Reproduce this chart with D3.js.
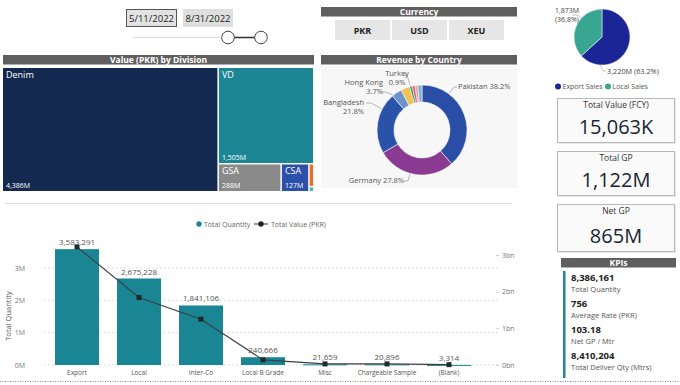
<!DOCTYPE html>
<html>
<head>
<meta charset="utf-8">
<script src="https://cdn.jsdelivr.net/npm/d3@7"></script>
<style>
  body { margin: 0; background: #fff; }
  svg text { font-family: "Open Sans", "Noto Sans", sans-serif; }
</style>
</head>
<body>
<div id="dash"></div>
<script>
// ---- data ----
var divisions = ["Denim", "VD", "GSA", "CSA", "Other", "Misc"];
var divisionValues = [4386, 1505, 288, 127, 18, 4];
var divisionColors = ["#13294f", "#1c8694", "#8a8a8a", "#2c50aa", "#f06b1e", "#46b7ad"];

var countries = ["Pakistan", "Germany", "Bangladesh", "Hong Kong", "USA", "Turkey", "Spain", "Italy", "UK"];
var countryShares = [38.2, 27.8, 21.8, 3.7, 3.2, 0.9, 1.0, 1.0, 1.5];
var countryColors = ["#2a4ea6", "#8b3a92", "#2a52a8", "#6b93cc", "#f2c24f", "#2e9a6f", "#e8566b", "#f29ab0", "#7fb6c9"];

var salesTypes = ["Export Sales", "Local Sales"];
var salesValues = [3220, 1873];
var salesColors = ["#1b2596", "#38a690"];

var categories = ["Export", "Local", "Inter-Co", "Local B Grade", "Misc", "Chargeable Sample", "(Blank)"];
var quantities = [3583291, 2675228, 1841106, 240666, 21659, 20896, 3314];
var valuesPKR = [3.22e9, 1.84e9, 1.25e9, 0.14e9, 0.03e9, 0.03e9, 0.01e9];

var cards = ["Total Value (FCY)", "Total GP", "Net GP"];
var cardValues = ["15,063K", "1,122M", "865M"];

var kpiValues = ["8,386,161", "756", "103.18", "8,410,204"];
var kpiNames = ["Total Quantity", "Average Rate (PKR)", "Net GP / Mtr", "Total Deliver Qty (Mtrs)"];

var currencies = ["PKR", "USD", "XEU"];

// ---- svg ----
var svg = d3.select("#dash").append("svg").attr("width", 680).attr("height", 385);

function titleBar(x, y, w, label) {
  svg.append("rect").attr("x", x).attr("y", y).attr("width", w).attr("height", 9.5).attr("fill", "#5f5f5f");
  svg.append("text").attr("x", x + w / 2).attr("y", y + 8).attr("text-anchor", "middle")
    .attr("font-size", "8.5px").attr("font-weight", "bold").attr("fill", "#fff").text(label);
}

// date slicer
svg.append("rect").attr("x", 126.5).attr("y", 9.5).attr("width", 50).attr("height", 17).attr("fill", "#e2e2e2").attr("stroke", "#555");
svg.append("text").attr("x", 151.5).attr("y", 22).attr("text-anchor", "middle").attr("font-size", "9.5px").attr("fill", "#222").text("5/11/2022");
svg.append("rect").attr("x", 183).attr("y", 9).attr("width", 50).attr("height", 18).attr("fill", "#dedede");
svg.append("text").attr("x", 208).attr("y", 22).attr("text-anchor", "middle").attr("font-size", "9.5px").attr("fill", "#222").text("8/31/2022");
svg.append("line").attr("x1", 133).attr("x2", 261).attr("y1", 37.5).attr("y2", 37.5).attr("stroke", "#ddd");
svg.append("line").attr("x1", 228).attr("x2", 261).attr("y1", 37.5).attr("y2", 37.5).attr("stroke", "#333").attr("stroke-width", 1.5);
[228, 261].forEach(function (cx) {
  svg.append("circle").attr("cx", cx).attr("cy", 37.5).attr("r", 6.3).attr("fill", "#fff").attr("stroke", "#444");
});

// currency slicer
titleBar(321, 7, 196, "Currency");
currencies.forEach(function (c, i) {
  var bx = 335 + i * 57;
  svg.append("rect").attr("x", bx).attr("y", 20).attr("width", 55).attr("height", 20).attr("fill", "#e6e6e6");
  svg.append("text").attr("x", bx + 27.5).attr("y", 33.5).attr("text-anchor", "middle")
    .attr("font-size", "9px").attr("font-weight", "bold").attr("fill", "#222").text(c);
});

// ---- treemap ----
titleBar(3, 55, 311, "Value (PKR) by Division");
var root = d3.hierarchy({ children: divisions.map(function (d, i) { return { name: d, value: divisionValues[i], color: divisionColors[i] }; }) })
  .sum(function (d) { return d.value || 0; });
d3.treemap().size([310, 123]).paddingInner(1.5).tile(d3.treemapSquarify)(root);
var tm = svg.append("g").attr("transform", "translate(3,68)");
var leaf = tm.selectAll("g").data(root.leaves()).enter().append("g");
leaf.append("rect")
  .attr("x", function (d) { return d.x0; }).attr("y", function (d) { return d.y0; })
  .attr("width", function (d) { return d.x1 - d.x0; }).attr("height", function (d) { return d.y1 - d.y0; })
  .attr("fill", function (d) { return d.data.color; });
leaf.filter(function (d) { return d.x1 - d.x0 > 20; }).append("text")
  .attr("x", function (d) { return d.x0 + 3; }).attr("y", function (d) { return d.y0 + 10; })
  .attr("font-size", "9px").attr("fill", "#fff").text(function (d) { return d.data.name; });
leaf.filter(function (d) { return d.x1 - d.x0 > 20; }).append("text")
  .attr("x", function (d) { return d.x0 + 3; }).attr("y", function (d) { return d.y1 - 3; })
  .attr("font-size", "7px").attr("fill", "#fff")
  .text(function (d) { return d3.format(",")(d.data.value) + "M"; });

// ---- donut ----
titleBar(321, 55, 196, "Revenue by Country");
svg.append("rect").attr("x", 321).attr("y", 66).attr("width", 196).attr("height", 122).attr("fill", "#f7f7f7");
var dcx = 422, dcy = 130, rOut = 45;
var donut = svg.append("g").attr("transform", "translate(" + dcx + "," + dcy + ")");
var pie = d3.pie().sort(null).value(function (d) { return d; });
var arc = d3.arc().innerRadius(28).outerRadius(rOut);
var arcs = pie(countryShares);
donut.selectAll("path").data(arcs).enter().append("path")
  .attr("d", arc).attr("fill", function (d, i) { return countryColors[i]; })
  .attr("stroke", "#f7f7f7").attr("stroke-width", 0.6);

var labelSpots = [
  { i: 0, lines: ["Pakistan 38.2%"], tx: 458, ty: 89, anchor: "start", bend: [454, 87] },
  { i: 1, lines: ["Germany 27.8%"], tx: 404, ty: 183, anchor: "end", bend: [408, 181] },
  { i: 2, lines: ["Bangladesh", "21.8%"], tx: 364, ty: 105, anchor: "end", bend: [371, 103] },
  { i: 3, lines: ["Hong Kong", "3.7%"], tx: 383, ty: 85, anchor: "end", bend: [386, 92] },
  { i: 5, lines: ["Turkey", "0.9%"], tx: 397, ty: 76, anchor: "middle", bend: [407, 75] }
];
labelSpots.forEach(function (s) {
  // attach leader to the slice edge at the angle closest to the label
  var a = arcs[s.i];
  var ang = Math.atan2(s.bend[0] - dcx, -(s.bend[1] - dcy));
  if (ang < 0) ang += 2 * Math.PI;
  ang = Math.max(a.startAngle + 0.02, Math.min(a.endAngle - 0.02, ang));
  var px = dcx + (rOut + 1) * Math.sin(ang), py = dcy - (rOut + 1) * Math.cos(ang);
  var endX = s.anchor === "end" ? s.bend[0] - 5 : s.bend[0] + 3;
  if (s.anchor === "middle") endX = s.bend[0] - 4;
  svg.append("polyline")
    .attr("points", [[px, py], s.bend, [endX, s.bend[1]]].join(" "))
    .attr("fill", "none").attr("stroke", "#999").attr("stroke-width", 0.7);
  s.lines.forEach(function (l, k) {
    svg.append("text").attr("x", s.tx).attr("y", s.ty + k * 9).attr("text-anchor", s.anchor)
      .attr("font-size", "7.5px").attr("fill", "#555").text(l);
  });
});

// ---- export/local pie ----
var pcx = 602, pcy = 37;
var pie2 = svg.append("g").attr("transform", "translate(" + pcx + "," + pcy + ")");
var arcs2 = pie(salesValues);
pie2.selectAll("path").data(arcs2).enter().append("path")
  .attr("d", d3.arc().innerRadius(0).outerRadius(28))
  .attr("fill", function (d, i) { return salesColors[i]; }).attr("stroke", "#fff").attr("stroke-width", 0.5);
var fmtM = d3.format(",");
var tot = d3.sum(salesValues);
svg.append("polyline").attr("points", "582,18 578,15 572,15").attr("fill", "none").attr("stroke", "#aaa").attr("stroke-width", 0.7);
svg.append("text").attr("x", 555).attr("y", 13).attr("font-size", "7px").attr("fill", "#444").text(fmtM(salesValues[1]) + "M");
svg.append("text").attr("x", 555).attr("y", 22).attr("font-size", "7px").attr("fill", "#444").text("(" + (salesValues[1] / tot * 100).toFixed(1) + "%)");
svg.append("polyline").attr("points", "600,65 603,71 606,71").attr("fill", "none").attr("stroke", "#aaa").attr("stroke-width", 0.7);
svg.append("text").attr("x", 607).attr("y", 74).attr("font-size", "7.3px").attr("fill", "#444")
  .text(fmtM(salesValues[0]) + "M (" + (salesValues[0] / tot * 100).toFixed(1) + "%)");
var legX = [558, 608];
salesTypes.forEach(function (s, i) {
  svg.append("circle").attr("cx", legX[i]).attr("cy", 86.5).attr("r", 3).attr("fill", salesColors[i]);
  svg.append("text").attr("x", legX[i] + 4.5).attr("y", 89).attr("font-size", "7px").attr("fill", "#555").text(s);
});

// ---- cards ----
var cardTops = [98, 151, 204];
var cardHeights = [45, 45, 48];
cards.forEach(function (c, i) {
  var y = cardTops[i];
  svg.append("rect").attr("x", 558).attr("y", y + 1).attr("width", 118).attr("height", cardHeights[i]).attr("fill", "#e9e9e9");
  svg.append("rect").attr("x", 557.5).attr("y", y + 0.5).attr("width", 117).attr("height", cardHeights[i] - 1)
    .attr("fill", "#fafafa").attr("stroke", "#b8b8b8");
  svg.append("text").attr("x", 616).attr("y", y + 10).attr("text-anchor", "middle").attr("font-size", "8.5px").attr("fill", "#333").text(c);
  svg.append("text").attr("x", 616).attr("y", y + cardHeights[i] - 9).attr("text-anchor", "middle").attr("font-size", "20px")
    .attr("fill", "#1a2433").text(cardValues[i]);
});

// ---- KPI list ----
titleBar(561, 258, 115, "KPIs");
svg.append("rect").attr("x", 563).attr("y", 271).attr("width", 2.5).attr("height", 107).attr("fill", "#1c8694");
kpiValues.forEach(function (v, i) {
  var y = 281 + i * 26;
  svg.append("text").attr("x", 571).attr("y", y).attr("font-size", "9.5px").attr("font-weight", "bold").attr("fill", "#222").text(v);
  svg.append("text").attr("x", 571).attr("y", y + 11).attr("font-size", "7.5px").attr("fill", "#555").text(kpiNames[i]);
});

// ---- combo chart ----
svg.append("line").attr("x1", 5).attr("x2", 512).attr("y1", 203.5).attr("y2", 203.5).attr("stroke", "#ddd");
var x = d3.scaleBand().domain(categories).range([46, 480]).paddingInner(0.29).paddingOuter(0.145);
var yL = d3.scaleLinear().domain([0, 3e6]).range([365, 268]);
var yR = d3.scaleLinear().domain([0, 3e9]).range([365, 255]);

var chart = svg.append("g");
chart.selectAll(".grid").data(yL.ticks(3)).enter().append("line")
  .attr("x1", 44).attr("x2", 500)
  .attr("y1", function (d) { return yL(d); }).attr("y2", function (d) { return yL(d); })
  .attr("stroke", "#d6d6d6").attr("stroke-dasharray", "1.5,2.5");

var leftAxis = chart.append("g").attr("transform", "translate(28,0)")
  .call(d3.axisLeft(yL).ticks(3).tickSize(0).tickFormat(function (d) { return d / 1e6 + "M"; }));
leftAxis.select(".domain").remove();
leftAxis.selectAll("text").attr("font-size", "7px").attr("fill", "#777");

var rightAxis = chart.append("g").attr("transform", "translate(496,0)")
  .call(d3.axisRight(yR).ticks(3).tickSize(3).tickPadding(3).tickFormat(function (d) { return d / 1e9 + "bn"; }));
rightAxis.select(".domain").remove();
rightAxis.selectAll("line").attr("stroke", "#ccc");
rightAxis.selectAll("text").attr("font-size", "7px").attr("fill", "#777");

chart.append("text").attr("transform", "translate(11,316)rotate(-90)").attr("text-anchor", "middle")
  .attr("font-size", "7.5px").attr("fill", "#555").text("Total Quantity");

chart.selectAll(".bar").data(quantities).enter().append("rect")
  .attr("x", function (d, i) { return x(categories[i]); })
  .attr("y", function (d) { return yL(d); })
  .attr("width", x.bandwidth())
  .attr("height", function (d) { return Math.max(1, 365 - yL(d)); })
  .attr("fill", "#1a8694");

var xAxis = chart.append("g").attr("transform", "translate(0,365)").call(d3.axisBottom(x).tickSize(0).tickPadding(5));
xAxis.select(".domain").remove();
xAxis.selectAll("text").attr("font-size", "6.5px").attr("fill", "#555");

var line = d3.line()
  .x(function (d, i) { return x(categories[i]) + x.bandwidth() / 2; })
  .y(function (d) { return yR(d); });
chart.append("path").datum(valuesPKR).attr("d", line).attr("fill", "none").attr("stroke", "#3a3f44").attr("stroke-width", 1.1);
chart.selectAll(".mk").data(valuesPKR).enter().append("rect")
  .attr("x", function (d, i) { return x(categories[i]) + x.bandwidth() / 2 - 2.5; })
  .attr("y", function (d) { return yR(d) - 2.5; })
  .attr("width", 5).attr("height", 5).attr("fill", "#1f2a2c");

chart.selectAll(".lbl").data(quantities).enter().append("text")
  .attr("x", function (d, i) { return x(categories[i]) + x.bandwidth() / 2; })
  .attr("y", function (d) { return yL(d) - 4; })
  .attr("text-anchor", "middle").attr("font-size", "8px").attr("fill", "#555")
  .text(function (d) { return d3.format(",")(d); });

// legend
svg.append("circle").attr("cx", 199).attr("cy", 224).attr("r", 2.7).attr("fill", "#1a8694");
svg.append("text").attr("x", 204).attr("y", 226.5).attr("font-size", "7px").attr("fill", "#666").text("Total Quantity");
svg.append("line").attr("x1", 254).attr("x2", 268).attr("y1", 224).attr("y2", 224).attr("stroke", "#333");
svg.append("circle").attr("cx", 261).attr("cy", 224).attr("r", 2.7).attr("fill", "#222");
svg.append("text").attr("x", 271).attr("y", 226.5).attr("font-size", "7px").attr("fill", "#666").text("Total Value (PKR)");

// bottom dotted rule
svg.append("line").attr("x1", 0).attr("x2", 680).attr("y1", 381.5).attr("y2", 381.5)
  .attr("stroke", "#888").attr("stroke-dasharray", "1,1.5");
</script>
</body>
</html>
